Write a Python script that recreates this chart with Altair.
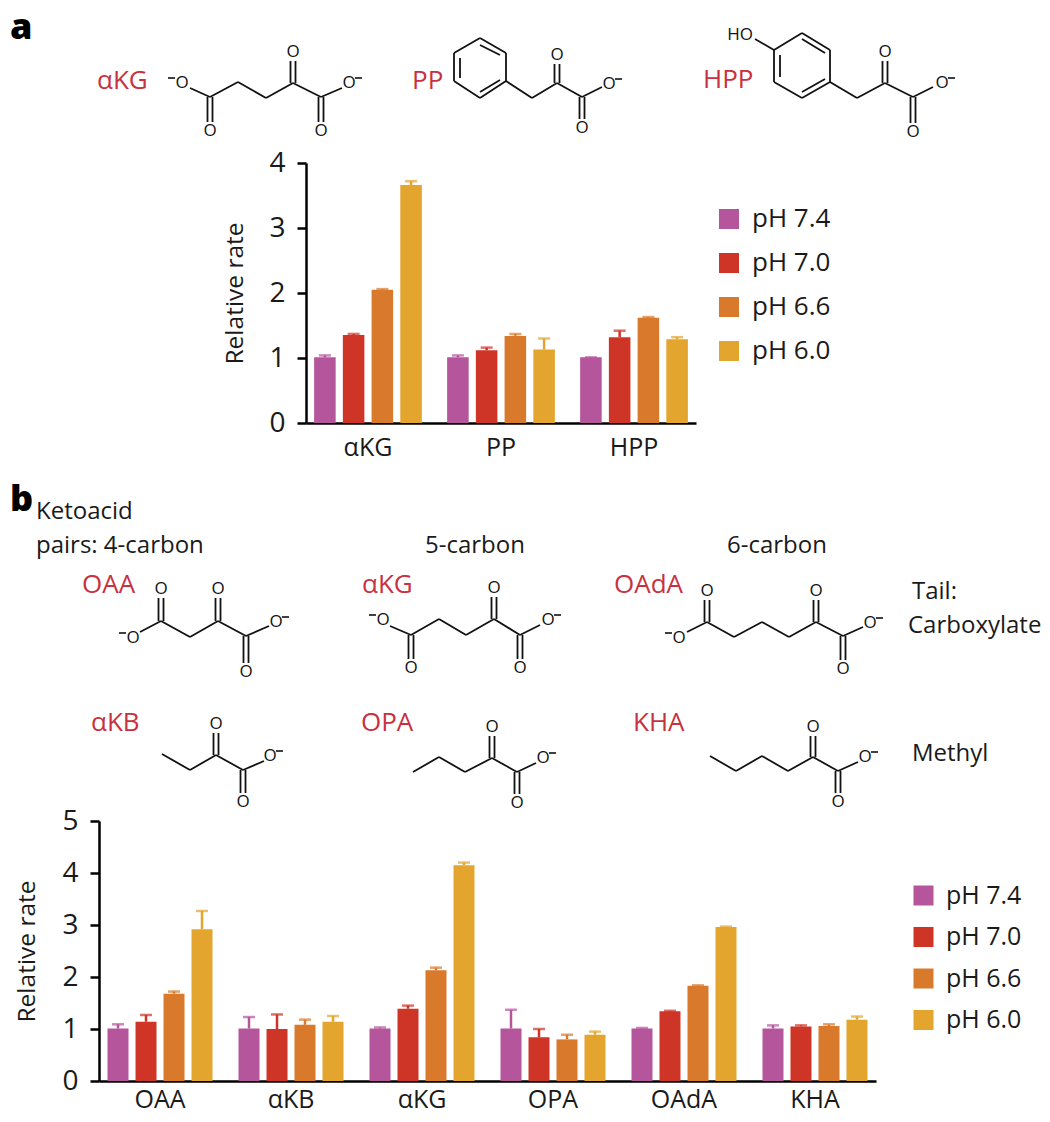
import altair as alt
import pandas as pd

FONT = "Open Sans"
INK = "#1a1a1a"
RED = "#c8313f"
W, H = 1034, 1106
WEIGHT = 400

# ---- data ----
ph_levels = ["pH 7.4", "pH 7.0", "pH 6.6", "pH 6.0"]
ph_colors = ["#B5559C", "#CE3527", "#D9792B", "#E3A52E"]

a_groups = ["αKG", "PP", "HPP"]
a_values = [[1.01, 1.355, 2.05, 3.66], [1.01, 1.12, 1.34, 1.13], [1.01, 1.32, 1.62, 1.29]]
a_tops = [[1.04, 1.37, 2.06, 3.72], [1.04, 1.16, 1.37, 1.30], [1.01, 1.42, 1.63, 1.32]]

b_groups = ["OAA", "αKB", "αKG", "OPA", "OAdA", "KHA"]
b_values = [[1.01, 1.14, 1.68, 2.92], [1.01, 1.00, 1.08, 1.14], [1.01, 1.39, 2.13, 4.15],
            [1.01, 0.84, 0.80, 0.89], [1.01, 1.34, 1.83, 2.96], [1.01, 1.05, 1.06, 1.18]]
b_tops = [[1.09, 1.27, 1.72, 3.27], [1.23, 1.28, 1.18, 1.25], [1.03, 1.45, 2.18, 4.20],
          [1.37, 1.00, 0.89, 0.95], [1.02, 1.35, 1.84, 2.97], [1.07, 1.07, 1.09, 1.24]]


def table(groups, values, tops):
    rows = []
    for g, vs, ts in zip(groups, values, tops):
        for p, v, t in zip(ph_levels, vs, ts):
            rows.append({"group": g, "ph": p, "value": v, "top": t})
    return pd.DataFrame(rows)


def bar_panel(df, groups, xrange, pad_in, pad_out, off_pad, ydomain, yrange,
              xaxis_offset, cap, yaxis, legend, label_pad):
    x_scale = alt.Scale(domain=groups, range=xrange, paddingInner=pad_in, paddingOuter=pad_out)
    xaxis = alt.Axis(orient="bottom", offset=xaxis_offset, title=None, ticks=False,
                     labelAngle=0, labelFontSize=25, labelFont=FONT, labelColor=INK,
                     labelPadding=label_pad, domainWidth=2.5, domainColor="#000", labelFontWeight=WEIGHT)
    y_scale = alt.Scale(domain=ydomain, range=yrange, nice=False)
    palette = alt.Scale(domain=ph_levels, range=ph_colors)
    x_off = alt.XOffset("ph:N", scale=alt.Scale(domain=ph_levels, paddingInner=off_pad, paddingOuter=0), sort=ph_levels)
    x_plain = alt.X("group:N", sort=groups, scale=x_scale, axis=None)
    base = alt.Chart(df)
    err = base.mark_rule(strokeWidth=2.5).encode(
        x=x_plain, xOffset=x_off,
        y=alt.Y("value:Q", scale=y_scale, axis=None), y2="top:Q",
        color=alt.Color("ph:N", scale=palette, legend=None))
    caps = base.mark_tick(orient="horizontal", size=cap, thickness=2.5).encode(
        x=x_plain, xOffset=x_off,
        y=alt.Y("top:Q", scale=y_scale, axis=None),
        color=alt.Color("ph:N", scale=palette, legend=None))
    bars = base.mark_bar().encode(
        x=alt.X("group:N", sort=groups, scale=x_scale, axis=xaxis), xOffset=x_off,
        y=alt.Y("value:Q", scale=y_scale, axis=alt.Axis(**yaxis), title="Relative rate"),
        color=alt.Color("ph:N", scale=palette, legend=legend, title=None))
    return [err, caps, bars]


def y_axis(offset, values, title_pad):
    return dict(orient="left", offset=offset, values=values, tickSize=9, tickWidth=2.5,
                tickColor="#000", domainWidth=2.5, domainColor="#000", grid=False,
                labelFontSize=28, labelFont=FONT, labelColor=INK, labelPadding=12,
                labelFontWeight=WEIGHT,
                titleFont=FONT, titleFontSize=24.5, titleFontWeight=WEIGHT, titleColor=INK,
                titlePadding=title_pad, format="d")


def make_legend(x, y, row_pad, size):
    return alt.Legend(orient="none", legendX=x, legendY=y, symbolType="square", symbolSize=400,
                      symbolStrokeWidth=0, symbolOpacity=1, labelFont=FONT, labelFontSize=size,
                      labelFontWeight=WEIGHT,
                      labelColor=INK, labelOffset=10, rowPadding=row_pad, title=None, padding=0)


panel_a = bar_panel(
    table(a_groups, a_values, a_tops), a_groups, [298, 688], 0.19, 0.061, 0.25,
    [0, 4], [415, 155], 415 - H, 12,
    y_axis(-298, [0, 1, 2, 3, 4], 21),
    make_legend(708, 198, 18, 26), 12)

panel_b = bar_panel(
    table(b_groups, b_values, b_tops), b_groups, [91, 868], 0.1985, 0.065, 0.25,
    [0, 5], [1073, 813], 1073 - H, 12,
    y_axis(-91, [0, 1, 2, 3, 4, 5], 22),
    make_legend(903, 875, 15.5, 25), 6)

# ---- chemical structures (page coordinates) ----
segments = []
atoms = []
charges = []


def chain(*pts):
    for (x1, y1), (x2, y2) in zip(pts, pts[1:]):
        segments.append({"x": x1, "y": y1, "x2": x2, "y2": y2})


def double_v(x, y1, y2):
    chain((x - 2.5, y1), (x - 2.5, y2))
    chain((x + 2.5, y1), (x + 2.5, y2))


def oxygen_up(x, yc, yo):
    double_v(x, yc, yo + 9)
    atoms.append({"x": x, "y": yo, "t": "O"})


def oxygen_down(x, yc, yo):
    double_v(x, yc, yo - 9)
    atoms.append({"x": x, "y": yo, "t": "O"})


def anion(x, y):
    atoms.append({"x": x, "y": y, "t": "O"})
    charges.append({"x": x + 6, "y": y - 5, "x2": x + 13, "y2": y - 5})


def anion_left(x, y):
    atoms.append({"x": x, "y": y, "t": "O"})
    charges.append({"x": x - 14, "y": y - 5, "x2": x - 7, "y2": y - 5})


# a: alpha-ketoglutarate
chain((190, 88), (210, 97), (238, 82), (266, 98), (293, 83), (321, 97), (342, 88))
anion_left(182, 83); anion(349, 83)
oxygen_down(210, 97, 131); oxygen_up(293, 83, 52); oxygen_down(321, 97, 131)
# a: phenylpyruvate
chain((480, 38), (506, 53), (506, 81), (480, 98), (454, 81), (454, 53), (480, 38))
chain((460, 58), (460, 78)); chain((480, 45), (500, 55)); chain((480, 92), (500, 80))
chain((506, 81), (532, 98), (557, 83), (582, 97), (602, 87))
anion(609, 84); oxygen_up(557, 83, 55); oxygen_down(582, 97, 128)
# a: hydroxyphenylpyruvate
chain((802, 33), (830, 50), (830, 82), (802, 98), (774, 82), (774, 50), (802, 33))
chain((780, 55), (780, 77)); chain((802, 39), (825, 53)); chain((802, 92), (825, 79))
chain((755, 39), (774, 50))
chain((830, 82), (857, 98), (885, 83), (913, 97), (933, 87))
anion(942, 83); oxygen_up(885, 83, 52); oxygen_down(913, 97, 132)
atoms.append({"x": 740, "y": 35, "t": "HO"})
# b: OAA
chain((140, 632), (161, 621), (190, 637), (218, 621), (246, 636), (269, 626))
anion_left(133, 638); anion(276, 622)
oxygen_up(161, 621, 589); oxygen_up(218, 621, 589); oxygen_down(246, 636, 672)
# b: alpha-KG
chain((390, 626), (411, 635), (439, 619), (466, 635), (494, 619), (520, 635), (540, 625))
anion_left(383, 620); anion(548, 620)
oxygen_down(411, 635, 668); oxygen_up(494, 619, 588); oxygen_down(520, 635, 668)
# b: OAdA
chain((687, 632), (707, 622), (734, 637), (762, 622), (789, 637), (816, 622), (843, 636), (863, 627))
anion_left(679, 638); anion(870, 623)
oxygen_up(707, 622, 591); oxygen_up(816, 622, 591); oxygen_down(843, 636, 669)
# b: alpha-KB
chain((162, 754), (190, 770), (216, 755), (243, 770), (264, 761))
anion(270, 756); oxygen_up(216, 755, 724); oxygen_down(243, 770, 802)
# b: OPA
chain((413, 772), (439, 757), (465, 772), (492, 758), (517, 772), (536, 763))
anion(543, 758); oxygen_up(492, 758, 727); oxygen_down(517, 772, 803)
# b: KHA
chain((710, 756), (736, 771), (762, 756), (788, 771), (813, 757), (838, 771), (858, 762))
anion(865, 757); oxygen_up(813, 757, 727); oxygen_down(838, 771, 802)

red_labels = [
    {"x": 97, "y": 81, "t": "αKG"}, {"x": 412, "y": 81, "t": "PP"}, {"x": 703, "y": 80, "t": "HPP"},
    {"x": 82, "y": 585, "t": "OAA"}, {"x": 362, "y": 585, "t": "αKG"}, {"x": 614, "y": 585, "t": "OAdA"},
    {"x": 91, "y": 723, "t": "αKB"}, {"x": 361, "y": 723, "t": "OPA"}, {"x": 633, "y": 723, "t": "KHA"},
]
black_left = [
    {"x": 36, "y": 512, "t": "Ketoacid"}, {"x": 36, "y": 546, "t": "pairs: 4-carbon"},
    {"x": 912, "y": 592, "t": "Tail:"}, {"x": 908, "y": 626, "t": "Carboxylate"}, {"x": 912, "y": 754, "t": "Methyl"},
]
black_center = [{"x": 475, "y": 546, "t": "5-carbon"}, {"x": 777, "y": 546, "t": "6-carbon"}]
panel_letters = [{"x": 10, "y": 28, "t": "a"}, {"x": 10, "y": 500, "t": "b"}]

px = alt.Scale(domain=[8, 8 + W], range=[0, W], nice=False, zero=False)
py = alt.Scale(domain=[8, 8 + H], range=[0, H], nice=False, zero=False)


def rule_layer(rows, width):
    return alt.Chart(pd.DataFrame(rows)).mark_rule(color="#111", strokeWidth=width).encode(
        x=alt.X("x:Q", scale=px, axis=None), y=alt.Y("y:Q", scale=py, axis=None),
        x2="x2:Q", y2="y2:Q")


def text_layer(rows, size, color, align="left", weight=WEIGHT):
    return alt.Chart(pd.DataFrame(rows)).mark_text(
        font=FONT, fontSize=size, color=color, align=align, baseline="middle", fontWeight=weight
    ).encode(x=alt.X("x:Q", scale=px, axis=None), y=alt.Y("y:Q", scale=py, axis=None), text="t:N")


layers = panel_a + panel_b + [
    rule_layer(segments, 1.8), rule_layer(charges, 1.6),
    text_layer(atoms, 17, "#111", align="center"),
    text_layer(red_labels, 26, RED),
    text_layer(black_left, 24, INK),
    text_layer(black_center, 24, INK, align="center"),
    text_layer(panel_letters, 36, "#000", weight=800),
]

chart = alt.layer(*layers).resolve_scale(
    x="independent", y="independent", xOffset="independent", color="independent"
).properties(
    width=W, height=H, padding=0, autosize=alt.AutoSizeParams(type="none")
).configure_view(stroke=None)

chart.save("out.html", embed_options={"renderer": "svg", "actions": False})
